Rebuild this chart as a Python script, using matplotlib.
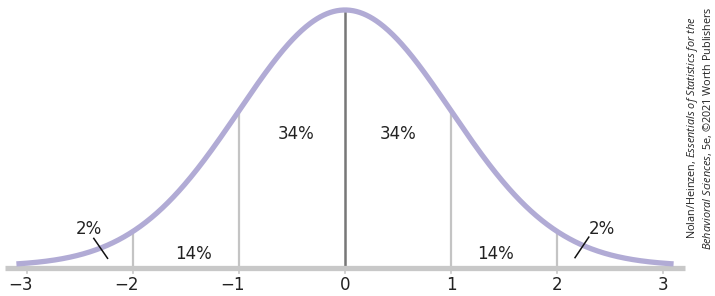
import numpy as np
import matplotlib
matplotlib.use("Agg")
import matplotlib.pyplot as plt

# Data
tick_values = [-3, -2, -1, 0, 1, 2, 3]
tick_labels = ["\u22123", "\u22122", "\u22121", "0", "1", "2", "3"]
region_labels = ["2%", "14%", "34%", "34%", "14%", "2%"]
label_x = [-2.42, -1.43, -0.46, 0.5, 1.42, 2.42]
label_y = [0.058, 0.018, 0.205, 0.205, 0.018, 0.058]
leader_lines = [((-2.37, -2.24), (0.043, 0.012)), ((2.30, 2.17), (0.045, 0.013))]
sd_lines = [-2, -1, 1, 2]

plt.rcParams['font.family'] = ['Open Sans', 'DejaVu Sans']
plt.rcParams['mathtext.fontset'] = 'custom'
plt.rcParams['mathtext.it'] = 'Open Sans:italic'
plt.rcParams['mathtext.rm'] = 'Open Sans'

def pdf(x):
    return np.exp(-x**2 / 2) / np.sqrt(2 * np.pi)

fig = plt.figure(figsize=(7.15, 2.96), dpi=100)
ax = fig.add_axes([0, 0, 1, 1])
ax.set_xlim(-3.2547, 3.4906)
ax.set_ylim(-0.04675, 0.4145)
ax.axis('off')

# base axis line
ax.plot([-3.21, 3.21], [-0.0031, -0.0031], color='#c8c8c8', lw=3.8, solid_capstyle='butt', zorder=2)
for t in tick_values:
    ax.plot([t, t], [-0.0031, -0.011], color='#c8c8c8', lw=1.2, zorder=1)

# sd lines
for s in sd_lines:
    ax.plot([s, s], [0, pdf(s)], color='#c4c4c4', lw=1.6, zorder=1)
ax.plot([0, 0], [0, pdf(0)], color='#777777', lw=1.8, zorder=1)

# curve
xs = np.linspace(-3.1, 3.1, 600)
ax.plot(xs, pdf(xs), color='#b1abd5', lw=3.8, solid_capstyle='butt', zorder=3)

# leader lines
for (lx, ly) in leader_lines:
    ax.plot(lx, ly, color='#111111', lw=1.1, zorder=4)

num_font = ['DejaVu Sans']

# region labels
for t, x, y in zip(region_labels, label_x, label_y):
    ax.text(x, y, t, ha='center', va='center', fontsize=12, color='#222222', family=num_font)

# tick labels: digit centred on the tick, minus hanging to the left
for v, l in zip(tick_values, tick_labels):
    if v < 0:
        ax.text(v + 0.05, -0.0296, l, ha='right', va='center', fontsize=12,
                color='#222222', family=num_font)
    else:
        ax.text(v, -0.0296, l, ha='center', va='center', fontsize=12,
                color='#222222', family=num_font)

# credit text
fig.text(693/715, 1 - 128/296, "Nolan/Heinzen, $Essentials\\ of\\ Statistics\\ for\\ the$",
         rotation=90, ha='center', va='center', fontsize=7.8, color='#222222')
fig.text(708/715, 1 - 128/296, "$Behavioral\\ Sciences$, 5e, \u00a92021 Worth Publishers",
         rotation=90, ha='center', va='center', fontsize=7.8, color='#222222')

fig.savefig('out.png', dpi=100)
